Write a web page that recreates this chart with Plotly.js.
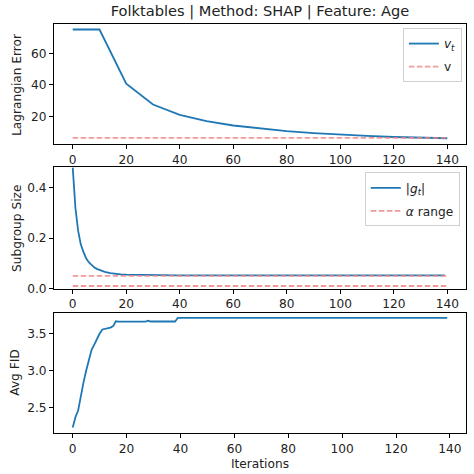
<!DOCTYPE html>
<html>
<head>
<meta charset="utf-8">
<script src="https://cdn.plot.ly/plotly-3.0.1.min.js"></script>
<style>
  html, body { margin: 0; padding: 0; background: #fff; }
  #chart { width: 474px; height: 474px; }
</style>
</head>
<body>
<div id="chart"></div>
<script>
// Lagrangian error, recorded every 10 iterations
const vIter = [0, 10, 20, 30, 40, 50, 60, 70, 80, 90, 100, 110, 120, 130, 140];
const vT = [75.2, 75.2, 40.8, 27.6, 21.1, 17.0, 14.3, 12.3, 10.7, 9.5, 8.5, 7.7, 7.0, 6.6, 6.2];
const vTarget = 6.4;

// Subgroup size per iteration (points where the curve changes)
const gIter = [0, 1, 2, 3, 4, 5, 6, 7, 8, 9, 10, 12, 14, 16, 18, 20, 30, 38, 39, 139];
const gSize = [0.48, 0.32, 0.23, 0.175, 0.145, 0.12, 0.104, 0.092, 0.084, 0.078, 0.073, 0.066,
               0.061, 0.058, 0.056, 0.055, 0.0545, 0.054, 0.052, 0.052];
const alphaLow = 0.01;
const alphaHigh = 0.05;
const alphaSpan = [0, 140];

// Average FID per iteration
const fidIter = [0, 1, 2, 3, 4, 5, 6, 7, 8, 9, 10, 11, 12, 13, 14, 15, 16, 17, 18, 19, 20, 22, 25, 27, 28, 29, 38, 39, 139];
const fidVal = [2.23, 2.37, 2.46, 2.66, 2.84, 3.00, 3.13, 3.28, 3.35, 3.43, 3.50, 3.555, 3.56, 3.565,
                3.58, 3.60, 3.665, 3.66, 3.66, 3.655, 3.65, 3.652, 3.655, 3.66, 3.672, 3.662, 3.662, 3.712, 3.712];

const xTicks = [0, 20, 40, 60, 80, 100, 120, 140];

const BLUE = '#1f77b4';
const RED = 'rgba(236,130,130,0.8)';
const DASH = '5.5px,2.5px';
const FONT = 'DejaVu Sans, sans-serif';

const traces = [
  { x: vIter, y: vT, type: 'scatter', mode: 'lines', name: '<i>v</i><sub><i>t</i></sub>', legendgroup: 'a',
    line: { color: BLUE, width: 1.8 }, xaxis: 'x', yaxis: 'y', legend: 'legend' },
  { x: [vIter[0], vIter[vIter.length - 1]], y: [vTarget, vTarget], type: 'scatter', mode: 'lines', name: 'v',
    legendgroup: 'b', line: { color: RED, width: 1.8, dash: DASH }, xaxis: 'x', yaxis: 'y', legend: 'legend' },

  { x: gIter, y: gSize, type: 'scatter', mode: 'lines', name: '|<i>g</i><sub><i>t</i></sub>|', legendgroup: 'c',
    line: { color: BLUE, width: 1.8 }, xaxis: 'x2', yaxis: 'y2', legend: 'legend2' },
  { x: alphaSpan, y: [alphaHigh, alphaHigh], type: 'scatter', mode: 'lines', name: '<i>α</i> range',
    legendgroup: 'd', line: { color: RED, width: 1.8, dash: DASH }, xaxis: 'x2', yaxis: 'y2', legend: 'legend2' },
  { x: alphaSpan, y: [alphaLow, alphaLow], type: 'scatter', mode: 'lines', showlegend: false, legendgroup: 'd',
    line: { color: RED, width: 1.8, dash: DASH }, xaxis: 'x2', yaxis: 'y2' },

  { x: fidIter, y: fidVal, type: 'scatter', mode: 'lines', showlegend: false,
    line: { color: BLUE, width: 1.8 }, xaxis: 'x3', yaxis: 'y3' }
];

const axisBase = {
  showline: true, mirror: true, linecolor: '#000', linewidth: 1,
  ticks: 'outside', ticklen: 4, tickwidth: 1, tickcolor: '#000',
  showgrid: false, zeroline: false,
  tickfont: { family: FONT, size: 12.2, color: '#222' }
};

function xAxis(range, anchor) {
  return Object.assign({}, axisBase, { range: range, tickvals: xTicks, anchor: anchor });
}

const legendBase = {
  xanchor: 'right', yanchor: 'top', bgcolor: 'rgba(255,255,255,0.8)',
  bordercolor: '#d0d0d0', borderwidth: 1,
  font: { family: FONT, size: 12.2, color: '#222' },
  tracegroupgap: 4
};

const layout = {
  width: 474, height: 474,
  margin: { l: 54, r: 8, t: 24, b: 41.3 },
  paper_bgcolor: '#fff', plot_bgcolor: '#fff',
  font: { family: FONT, color: '#222' },
  title: { text: 'Folktables | Method: SHAP | Feature: Age', font: { family: FONT, size: 14.6, color: '#222' },
           x: 0.5, xref: 'paper', xanchor: 'center', y: 1, yref: 'container', yanchor: 'top', pad: { t: 6 } },
  xaxis: xAxis([-7, 147], 'y'),
  xaxis2: xAxis([-7, 147], 'y2'),
  xaxis3: Object.assign(xAxis([-6.95, 145.95], 'y3'),
    { title: { text: 'Iterations', font: { family: FONT, size: 12.2, color: '#222' }, standoff: 4 } }),
  yaxis: Object.assign({}, axisBase, { domain: [0.7064, 1], range: [2.5, 78.7], tickvals: [20, 40, 60], anchor: 'x' }),
  yaxis2: Object.assign({}, axisBase, { domain: [0.3533, 0.6494], range: [0, 0.48], tickvals: [0, 0.2, 0.4],
    tickformat: '.1f', anchor: 'x2' }),
  yaxis3: Object.assign({}, axisBase, { domain: [0, 0.2936], range: [2.157, 3.778], tickvals: [2.5, 3.0, 3.5],
    tickformat: '.1f', anchor: 'x3' }),
  legend: Object.assign({}, legendBase, { x: 0.99, y: 0.99 }),
  legend2: Object.assign({}, legendBase, { x: 0.985, y: 0.637 }),
  annotations: [
    { text: 'Lagrangian Error', xref: 'paper', yref: 'paper', x: -0.09, y: 0.853, textangle: -90,
      showarrow: false, xanchor: 'center', yanchor: 'middle', font: { family: FONT, size: 12.2, color: '#222' } },
    { text: 'Subgroup Size', xref: 'paper', yref: 'paper', x: -0.09, y: 0.501, textangle: -90,
      showarrow: false, xanchor: 'center', yanchor: 'middle', font: { family: FONT, size: 12.2, color: '#222' } },
    { text: 'Avg FID', xref: 'paper', yref: 'paper', x: -0.095, y: 0.147, textangle: -90,
      showarrow: false, xanchor: 'center', yanchor: 'middle', font: { family: FONT, size: 12.2, color: '#222' } }
  ],
  showlegend: true
};

Plotly.newPlot('chart', traces, layout, { displayModeBar: false, staticPlot: true });
</script>
</body>
</html>
